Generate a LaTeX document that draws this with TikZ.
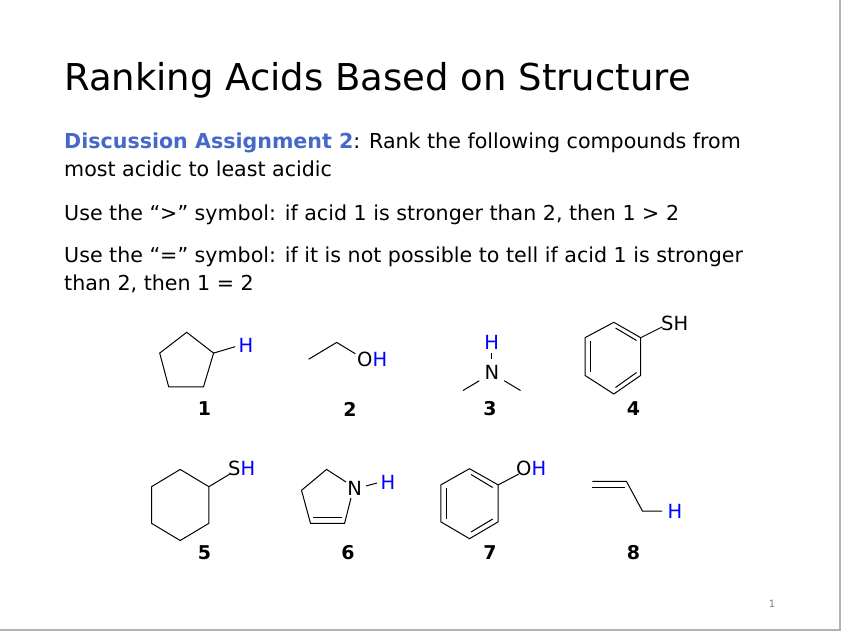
\documentclass[tikz,border=0pt]{standalone}
\usepackage{fontspec}
\setmainfont{DejaVu Sans}
\begin{document}
\begin{tikzpicture}[x=1pt,y=-1pt,
  bond/.style={line width=1pt,black},
  txt/.style={anchor=base west,inner sep=0pt,font=\fontsize{20.6}{24}\selectfont},
  atom/.style={inner sep=0pt,font=\fontsize{19.5}{22}\selectfont},
  hat/.style={atom,text=blue},
  lbl/.style={inner sep=0pt,font=\fontsize{19}{22}\selectfont\bfseries}]
\definecolor{dblue}{RGB}{70,105,200}
\useasboundingbox (0,0) rectangle (843,632);
\draw[gray!60,line width=1.2pt] (840,0) -- (840,630) -- (0,630);
\node[txt,font=\fontsize{37}{44}\selectfont] (title) at (64,90) {Ranking Acids Based on Structure};
\node[txt] (l1) at (64,148) {{\bfseries\color{dblue}Discussion Assignment 2}: Rank the following compounds from};
\node[txt] (l2) at (64,176) {most acidic to least acidic};
\node[txt] (l3) at (64,220) {Use the “>” symbol: if acid 1 is stronger than 2, then 1 > 2};
\node[txt] (l4) at (64,262) {Use the “=” symbol: if it is not possible to tell if acid 1 is stronger};
\node[txt] (l5) at (64,290) {than 2, then 1 = 2};
\node[font=\fontsize{10}{11}\selectfont,text=gray] (pg) at (772,604) {1};
% 1
\draw[bond] (186.7,332.3) -- (213.6,353.1) -- (203.5,386.9) -- (168.7,386.9) -- (159.7,353.1) -- cycle;
\draw[bond] (213.6,353.1) -- (235.1,346.7);
\node[hat] (h1) at (245.9,344.9) {H};
\node[lbl] (n1) at (204.6,409) {1};
% 2
\draw[bond] (308.7,359.2) -- (336.7,342.4) -- (355.4,353.8);
\node[atom,anchor=west] (oh2) at (357,359) {O\textcolor{blue}{H}};
\node[lbl] (n2) at (350,409) {2};
% 3
\node[hat] (h3) at (491.8,342) {H};
\node[atom] (n3a) at (491.8,372) {N};
\draw[bond] (491.8,353) -- (491.8,359);
\draw[bond] (479.2,380.8) -- (463,390.5);
\draw[bond] (504.3,380.8) -- (520.5,390.5);
\node[lbl] (n3) at (490,409) {3};
% 4
\draw[bond] (613.8,322.3) -- (640.7,337.7) -- (640.7,375.4) -- (613.8,394) -- (585,375.4) -- (585,337.7) -- cycle;
\draw[bond] (590.5,341) -- (590.5,372);
\draw[bond] (615.5,328) -- (636.5,340.5);
\draw[bond] (636.5,372.5) -- (615.5,387.5);
\draw[bond] (640.7,337.7) -- (662.3,326.9);
\node[atom,anchor=west] (sh4) at (661,323) {SH};
\node[lbl] (n4) at (633.5,409) {4};
% 5
\draw[bond] (180.2,469.4) -- (208.9,486.7) -- (208.9,523.3) -- (180.2,540.5) -- (151.5,523.3) -- (151.5,486.7) -- cycle;
\draw[bond] (208.9,486.7) -- (229.7,474.1);
\node[atom,anchor=west] (sh5) at (228,468) {S\textcolor{blue}{H}};
\node[lbl] (n5) at (204.6,553) {5};
% 6
\node[atom] (n6a) at (354.6,488) {N};
\draw[bond] (346,482) -- (326.6,469.4) -- (301.5,490.3) -- (310.5,523.3) -- (344.6,523.3) -- (351,498);
\draw[bond] (313,517.5) -- (342,517.5);
\draw[bond] (366,485.9) -- (376.9,483.1);
\node[hat] (h6) at (388,482.4) {H};
\node[lbl] (n6) at (348,553) {6};
% 7
\draw[bond] (469.5,468.7) -- (498.2,484.9) -- (498.2,521.8) -- (469.5,538.7) -- (440.8,521.8) -- (440.8,484.9) -- cycle;
\draw[bond] (446.3,488) -- (446.3,518.5);
\draw[bond] (471,474.5) -- (492.7,487.5);
\draw[bond] (492.7,519) -- (471,532);
\draw[bond] (498.2,484.9) -- (518.7,474.1);
\node[atom,anchor=west] (oh7) at (516,468) {O\textcolor{blue}{H}};
\node[lbl] (n7) at (490,553) {7};
% 8
\draw[bond] (592.3,481.3) -- (626.4,481.3) -- (642.5,511.1) -- (662.2,511.1);
\draw[bond] (592.3,487.4) -- (624.6,487.4);
\node[hat] (h8) at (675,511.8) {H};
\node[lbl] (n8) at (633.5,553) {8};
\end{tikzpicture}
\end{document}
